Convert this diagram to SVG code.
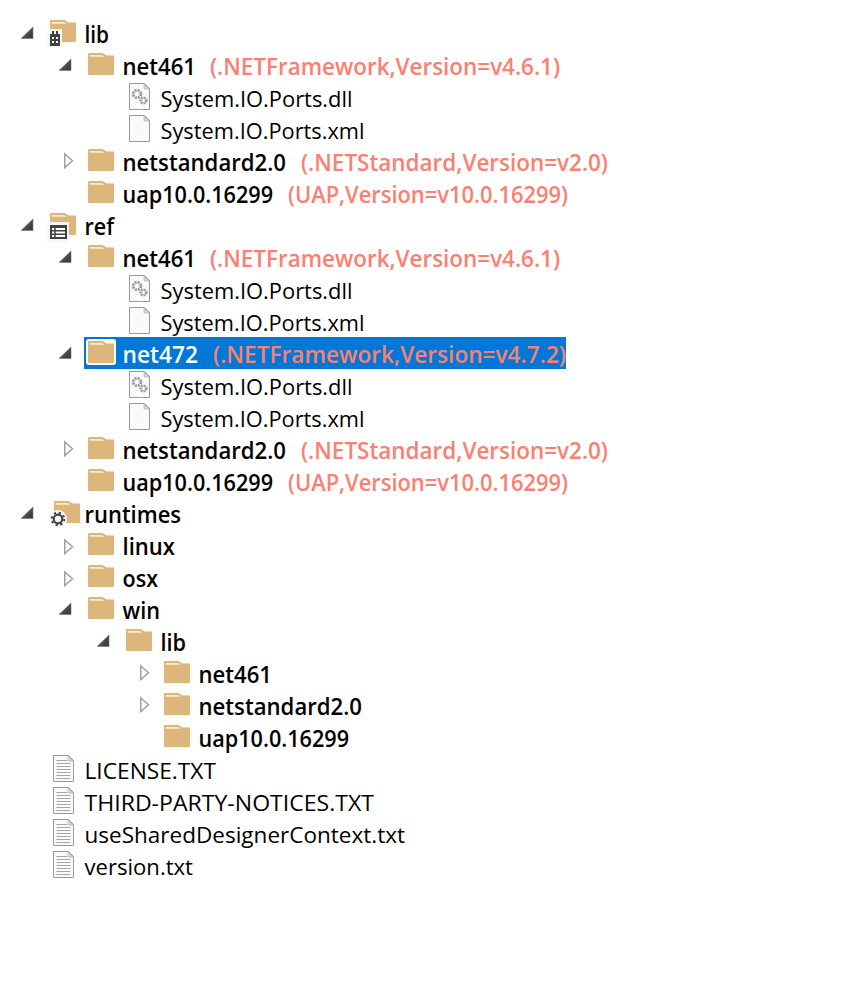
<svg xmlns="http://www.w3.org/2000/svg" xmlns:xlink="http://www.w3.org/1999/xlink" width="849" height="1008" viewBox="0 0 849 1008">
<style>
text{font-family:"Open Sans","Noto Sans","Liberation Sans",sans-serif;font-size:22.5px;fill:#000}
.b{font-weight:600}
.s{fill:#fa8072;font-weight:600}
.w{fill:#fff}
</style>
<defs>
<g id="folder"><path d="M-1.500 1.500Q-1.500-1.500 1.500-1.500H15L19 1H24.500Q27.500 1 27.500 4V20.500Q27.500 23.500 24.500 23.500H1.500Q-1.500 23.500-1.500 20.500Z" fill="#fafafa"/><path d="M0 1Q0 0 1 0H14.500L18.500 2.500H25Q26 2.500 26 3.500V21Q26 22 25 22H1Q0 22 0 21Z" fill="#dcb67a"/><path d="M1.500 2H14L16.500 3.700H1.500Z" fill="#f5ecd9"/></g>
<linearGradient id="expfill" x1="0" y1="0" x2="1" y2="1"><stop offset="0" stop-color="#6a6a6a"/><stop offset="1" stop-color="#333"/></linearGradient>
<path id="exp" d="M0 11.500L12 0V11.500Z" fill="url(#expfill)" stroke="#777" stroke-width=".6"/>
<path id="col" d="M.75 0L8.500 6.800L.75 13.600Z" fill="#fff" stroke="#a0a0a0" stroke-width="1.500"/>
<g id="file"><path d="M.5.5H15.500L20.500 5.500V26.500H.5Z" fill="#f9fafb" stroke="#9a9a9a"/><path d="M15 1V6H20Z" fill="#d8d8d8" stroke="#a8a8a8" stroke-width=".6"/></g>
<g id="dll"><use xlink:href="#file"/><g fill="none" stroke="#949da3"><circle cx="8" cy="11" r="3.800" stroke-width="3" stroke-dasharray="2 1"/><circle cx="14.500" cy="17.500" r="2.800" stroke-width="2.600" stroke-dasharray="1.800 .8"/></g></g>
<g id="txt"><use xlink:href="#file"/><path d="M3.500 5.500H14M3.500 8.500H17.500M3.500 11.500H17.500M3.500 14.500H17.500M3.500 17.500H17.500M3.500 20.500H17.500M3.500 23.500H17.500" stroke="#a6a6a6" fill="none"/></g>
</defs>
<rect width="849" height="1008" fill="#fff"/>
<rect id="selection" x="84" y="337" width="482" height="32" fill="#0078d7"/>

<g id="lib"><use xlink:href="#exp" x="21" y="27"/><use xlink:href="#folder" x="50" y="20"/><rect x="47" y="29" width="15" height="18" fill="#f7f7f7"/><path d="M50 34H60V46H50ZM52 31V34H54V31ZM56 31V34H58V31Z" fill="#424242"/><path d="M52 37H54V39H52ZM56 37H58V39H56ZM52 41H54V43H52ZM56 41H58V43H56Z" fill="#fff"/><text class="b" x="84.500" y="43" textLength="24.500" lengthAdjust="spacingAndGlyphs">lib</text></g>
<g id="lib-net461"><use xlink:href="#exp" x="59" y="59"/><use xlink:href="#folder" x="88" y="53"/><text class="b" x="122.500" y="75" textLength="73.500" lengthAdjust="spacingAndGlyphs">net461</text><text class="s" x="210" y="75" textLength="350" lengthAdjust="spacingAndGlyphs">(.NETFramework,Version=v4.6.1)</text></g>
<g id="lib-net461-dll"><use xlink:href="#dll" x="129" y="83"/><text x="160.500" y="107" textLength="192" lengthAdjust="spacingAndGlyphs">System.IO.Ports.dll</text></g>
<g id="lib-net461-xml"><use xlink:href="#file" x="129" y="115"/><text x="160.500" y="139" textLength="204" lengthAdjust="spacingAndGlyphs">System.IO.Ports.xml</text></g>
<g id="lib-netstandard"><use xlink:href="#col" x="64" y="154"/><use xlink:href="#folder" x="88" y="149"/><text class="b" x="122.500" y="171" textLength="163.500" lengthAdjust="spacingAndGlyphs">netstandard2.0</text><text class="s" x="301" y="171" textLength="307" lengthAdjust="spacingAndGlyphs">(.NETStandard,Version=v2.0)</text></g>
<g id="lib-uap"><use xlink:href="#folder" x="88" y="181"/><text class="b" x="122.500" y="203" textLength="150.500" lengthAdjust="spacingAndGlyphs">uap10.0.16299</text><text class="s" x="288" y="203" textLength="280" lengthAdjust="spacingAndGlyphs">(UAP,Version=v10.0.16299)</text></g>

<g id="ref"><use xlink:href="#exp" x="21" y="219"/><use xlink:href="#folder" x="50" y="213"/><rect x="47" y="222" width="22" height="20" fill="#f7f7f7"/><rect x="50" y="225" width="17" height="14" fill="#424242"/><path d="M52 228H65V230H52ZM52 231.500H65V233.500H52ZM52 235H65V237H52Z" fill="#fff"/><path d="M55 227V238" stroke="#424242" stroke-width="1.500"/><text class="b" x="84.500" y="235" textLength="29.500" lengthAdjust="spacingAndGlyphs">ref</text></g>
<g id="ref-net461"><use xlink:href="#exp" x="59" y="251"/><use xlink:href="#folder" x="88" y="245"/><text class="b" x="122.500" y="267" textLength="73.500" lengthAdjust="spacingAndGlyphs">net461</text><text class="s" x="210" y="267" textLength="350" lengthAdjust="spacingAndGlyphs">(.NETFramework,Version=v4.6.1)</text></g>
<g id="ref-net461-dll"><use xlink:href="#dll" x="129" y="275"/><text x="160.500" y="299" textLength="192" lengthAdjust="spacingAndGlyphs">System.IO.Ports.dll</text></g>
<g id="ref-net461-xml"><use xlink:href="#file" x="129" y="307"/><text x="160.500" y="331" textLength="204" lengthAdjust="spacingAndGlyphs">System.IO.Ports.xml</text></g>
<g id="ref-net472"><use xlink:href="#exp" x="59" y="347"/><rect x="86" y="339" width="30" height="26" rx="3" fill="#fff"/><use xlink:href="#folder" x="88" y="341"/><text class="b w" x="122.500" y="363" textLength="75.500" lengthAdjust="spacingAndGlyphs">net472</text><text class="s" x="213" y="363" textLength="353" lengthAdjust="spacingAndGlyphs">(.NETFramework,Version=v4.7.2)</text></g>
<g id="ref-net472-dll"><use xlink:href="#dll" x="129" y="371"/><text x="160.500" y="395" textLength="192" lengthAdjust="spacingAndGlyphs">System.IO.Ports.dll</text></g>
<g id="ref-net472-xml"><use xlink:href="#file" x="129" y="403"/><text x="160.500" y="427" textLength="204" lengthAdjust="spacingAndGlyphs">System.IO.Ports.xml</text></g>
<g id="ref-netstandard"><use xlink:href="#col" x="64" y="442"/><use xlink:href="#folder" x="88" y="437"/><text class="b" x="122.500" y="459" textLength="163.500" lengthAdjust="spacingAndGlyphs">netstandard2.0</text><text class="s" x="301" y="459" textLength="307" lengthAdjust="spacingAndGlyphs">(.NETStandard,Version=v2.0)</text></g>
<g id="ref-uap"><use xlink:href="#folder" x="88" y="469"/><text class="b" x="122.500" y="491" textLength="150.500" lengthAdjust="spacingAndGlyphs">uap10.0.16299</text><text class="s" x="288" y="491" textLength="280" lengthAdjust="spacingAndGlyphs">(UAP,Version=v10.0.16299)</text></g>

<g id="runtimes"><use xlink:href="#exp" x="21" y="507"/><use xlink:href="#folder" x="54" y="501"/><circle cx="58" cy="519" r="9" fill="#f7f7f7"/><circle cx="58" cy="519" r="4.300" fill="none" stroke="#424242" stroke-width="2.200"/><circle cx="58" cy="519" r="6.300" fill="none" stroke="#424242" stroke-width="2" stroke-dasharray="2.200 2.750"/><text class="b" x="84.500" y="523" textLength="96.500" lengthAdjust="spacingAndGlyphs">runtimes</text></g>
<g id="linux"><use xlink:href="#col" x="64" y="540"/><use xlink:href="#folder" x="88" y="533"/><text class="b" x="122.500" y="555" textLength="52.500" lengthAdjust="spacingAndGlyphs">linux</text></g>
<g id="osx"><use xlink:href="#col" x="64" y="572"/><use xlink:href="#folder" x="88" y="565"/><text class="b" x="122.500" y="587" textLength="35.500" lengthAdjust="spacingAndGlyphs">osx</text></g>
<g id="win"><use xlink:href="#exp" x="59" y="603"/><use xlink:href="#folder" x="88" y="597"/><text class="b" x="122.500" y="619" textLength="37.500" lengthAdjust="spacingAndGlyphs">win</text></g>
<g id="win-lib"><use xlink:href="#exp" x="97" y="635"/><use xlink:href="#folder" x="126" y="629"/><text class="b" x="160.500" y="651" textLength="25.500" lengthAdjust="spacingAndGlyphs">lib</text></g>
<g id="win-net461"><use xlink:href="#col" x="140" y="666"/><use xlink:href="#folder" x="164" y="661"/><text class="b" x="198.500" y="683" textLength="73.500" lengthAdjust="spacingAndGlyphs">net461</text></g>
<g id="win-netstandard"><use xlink:href="#col" x="140" y="698"/><use xlink:href="#folder" x="164" y="693"/><text class="b" x="198.500" y="715" textLength="163.500" lengthAdjust="spacingAndGlyphs">netstandard2.0</text></g>
<g id="win-uap"><use xlink:href="#folder" x="164" y="725"/><text class="b" x="198.500" y="747" textLength="150.500" lengthAdjust="spacingAndGlyphs">uap10.0.16299</text></g>

<g id="license"><use xlink:href="#txt" x="53" y="755"/><text x="84.500" y="779" textLength="131.500" lengthAdjust="spacingAndGlyphs">LICENSE.TXT</text></g>
<g id="third-party"><use xlink:href="#txt" x="53" y="787"/><text x="84.500" y="811" textLength="289.500" lengthAdjust="spacingAndGlyphs">THIRD-PARTY-NOTICES.TXT</text></g>
<g id="use-shared"><use xlink:href="#txt" x="53" y="819"/><text x="84.500" y="843" textLength="320.500" lengthAdjust="spacingAndGlyphs">useSharedDesignerContext.txt</text></g>
<g id="version"><use xlink:href="#txt" x="53" y="851"/><text x="84.500" y="875" textLength="108.500" lengthAdjust="spacingAndGlyphs">version.txt</text></g>
<g id="connectors"/>
</svg>
